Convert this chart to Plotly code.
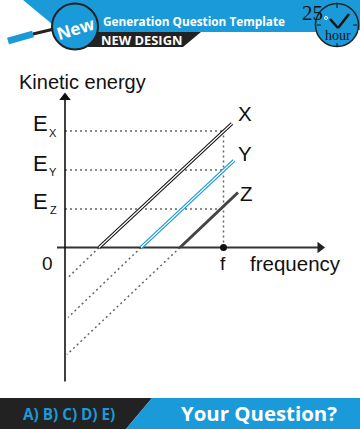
import plotly.graph_objects as go

# Chart data (origin at the axes crossing)
series_names = ["X", "Y", "Z"]
thresholds = [34, 76, 115]
line_end_f = [167, 169, 173]
line_end_e = [124, 87, 55]
intercept_f = [2, 3, 2]
intercepts = [-31, -70, -107]
level_labels = ["X", "Y", "Z"]
levels = [116.5, 77.5, 38.5]
f_value = 158.5
x_axis_min, x_axis_tip = -8, 260
y_axis_min, y_axis_tip = -134, 155
BLUE = "#1a9ad9"
DOT = "#666666"
SANS = "Liberation Sans, Arial, sans-serif"
BOLD = "Open Sans, Noto Sans, sans-serif"
SERIF = "Liberation Serif, serif"

fig = go.Figure()


def line(xs, ys, color, width, dash="solid"):
    fig.add_trace(go.Scatter(x=xs, y=ys, mode="lines", hoverinfo="skip", showlegend=False,
                             line=dict(color=color, width=width, dash=dash)))


dots = "2px,3px"
for lv in levels:
    line([0, f_value], [lv, lv], DOT, 1.5, dots)
line([f_value, f_value], [0, levels[0]], DOT, 1.5, dots)
for t, f0, e0 in zip(thresholds, intercept_f, intercepts):
    line([t, f0], [0, e0], DOT, 1.5, dots)

line([x_axis_min, x_axis_tip - 6], [0, 0], "#333333", 2)
line([0, 0], [y_axis_min, y_axis_tip - 6], "#111111", 1.6)

line([thresholds[0], line_end_f[0]], [0, line_end_e[0]], "#111111", 3.4)
line([thresholds[0], line_end_f[0]], [0, line_end_e[0]], "#ffffff", 1.3)
line([thresholds[1], line_end_f[1]], [0, line_end_e[1]], BLUE, 3.6)
line([thresholds[1], line_end_f[1]], [0, line_end_e[1]], "#ffffff", 1.1)
line([thresholds[2], line_end_f[2]], [0, line_end_e[2]], "#444444", 3)

fig.add_trace(go.Scatter(x=[f_value], y=[0], mode="markers", hoverinfo="skip", showlegend=False,
                         marker=dict(color="#111111", size=7)))
fig.add_trace(go.Scatter(x=[x_axis_tip - 5], y=[0], mode="markers", hoverinfo="skip", showlegend=False,
                         marker=dict(color="#222222", size=10, symbol="triangle-right")))
fig.add_trace(go.Scatter(x=[0], y=[y_axis_tip - 5], mode="markers", hoverinfo="skip", showlegend=False,
                         marker=dict(color="#111111", size=10, symbol="triangle-up")))

W, H = 360, 429
shapes = []
ann = []


def P(x):
    return x / W


def Q(y):
    return 1 - y / H


def poly(pts, fill):
    d = "M " + " L ".join(f"{P(x):.4f},{Q(y):.4f}" for x, y in pts) + " Z"
    shapes.append(dict(type="path", path=d, xref="paper", yref="paper", fillcolor=fill,
                       line=dict(width=0), layer="above"))


def seg(x0, y0, x1, y1, color, w):
    shapes.append(dict(type="line", xref="paper", yref="paper", x0=P(x0), y0=Q(y0), x1=P(x1), y1=Q(y1),
                       line=dict(color=color, width=w), layer="above"))


def circ(cx, cy, r, fill, lc, lw):
    shapes.append(dict(type="circle", xref="paper", yref="paper", x0=P(cx - r), x1=P(cx + r),
                       y0=Q(cy + r), y1=Q(cy - r), fillcolor=fill, line=dict(color=lc, width=lw), layer="above"))


def text(x, y, s, size, color="#111111", font=SANS, angle=0, anchor="center"):
    ann.append(dict(x=P(x), y=Q(y), xref="paper", yref="paper", text=s, showarrow=False, xanchor=anchor,
                    yanchor="middle", textangle=angle, font=dict(size=size, color=color, family=font)))


# Header
poly([(23, 0), (360, 0), (360, 30), (318, 32), (52, 32), (52, 24)], BLUE)
poly([(82, 32), (201, 32), (183, 47), (76, 47)], "#222222")
seg(8, 41, 33, 34, BLUE, 7)
seg(33, 34, 54, 29, "#222222", 3)
circ(75, 26.5, 23, BLUE, "#222222", 2)
circ(337, 25, 21.5, BLUE, "#222222", 1.5)
seg(330, 19, 338, 28, "#111111", 2.5)
seg(338, 28, 349, 14, "#111111", 2.5)
seg(337, 4, 337, 8, "#111111", 1)
seg(317, 25, 321, 25, "#111111", 1)
seg(353, 25, 357, 25, "#111111", 1)
seg(337, 43, 337, 47, "#111111", 1)
circ(326, 18, 1.5, "rgba(0,0,0,0)", "#ffffff", 1)

text(75, 28, "<b>New</b>", 17, "#ffffff", BOLD, -17)
text(193.5, 21, "<b>Generation Question Template</b>", 11.8, "#ffffff", BOLD)
text(141, 40.5, "<b>NEW DESIGN</b>", 12.9, "#ffffff", BOLD)
text(312, 13, "25", 21, "#111111", SERIF)
text(338, 35, "hour", 14, "#111111", SERIF)

# Footer
poly([(0, 398), (152, 398), (126, 429), (0, 429)], "#222222")
poly([(152, 398), (360, 398), (360, 429), (126, 429)], BLUE)
text(69, 414, "<b>A) B) C) D) E)</b>", 15.3, BLUE, BOLD)
text(259, 413, "<b>Your Question?</b>", 20.4, "#ffffff", BOLD)

# Chart labels
text(82, 82, "Kinetic energy", 20)
text(47, 263, "0", 19)
text(223, 263, "f", 19)
text(295, 263, "frequency", 20.5)
for py, name in zip([124, 163, 201], level_labels):
    text(40, py, "E", 22)
    text(53, py + 9, name, 11)
text(245, 113, "X", 20.5)
text(245, 153, "Y", 20.5)
text(246, 193, "Z", 20.5)

fig.update_layout(
    width=W, height=H, margin=dict(l=0, r=0, t=0, b=0), paper_bgcolor="white", plot_bgcolor="white",
    xaxis=dict(range=[-65, 295], visible=False, fixedrange=True),
    yaxis=dict(range=[-181.5, 247.5], visible=False, fixedrange=True),
    shapes=shapes, annotations=ann, showlegend=False,
)
fig.write_html("out.html", config=dict(displayModeBar=False),
               post_script="document.body.style.margin='0';document.body.style.overflow='hidden';")
